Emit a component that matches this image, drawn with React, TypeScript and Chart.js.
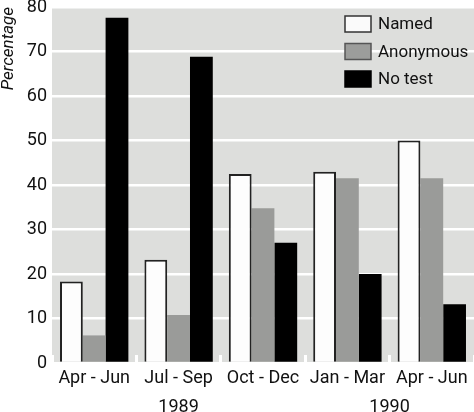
import { useEffect, useRef } from 'react'
import { Chart, registerables } from 'chart.js'

Chart.register(...registerables)

const quarters = ['Apr - Jun', 'Jul - Sep', 'Oct - Dec', 'Jan - Mar', 'Apr - Jun']
const years = ['1989', '1990']
// centre of each year's run of quarters, in category units
const yearCenters = [1, 3.5]
const named = [18.3, 23.2, 42.5, 43, 50]
const anonymous = [6.2, 10.8, 34.8, 41.5, 41.5]
const noTest = [77.6, 68.8, 27, 20, 13.2]

const FONT = "Roboto, 'Liberation Sans', sans-serif"

const legendStyles = [
  { fill: '#fafafa', stroke: '#333333' },
  { fill: '#9c9d9b', stroke: '#555555' },
  { fill: '#000000', stroke: '#000000' },
]

const plotBackground = {
  id: 'plotBackground',
  beforeDraw(chart: Chart) {
    const { ctx, chartArea } = chart
    ctx.save()
    ctx.fillStyle = '#dddedc'
    ctx.fillRect(chartArea.left, chartArea.top, chartArea.right - chartArea.left, chartArea.bottom - chartArea.top)
    ctx.restore()
  },
}

// legend sits inside the plot, top right
const insideLegend = {
  id: 'insideLegend',
  afterDraw(chart: Chart) {
    const { ctx, chartArea } = chart
    const x = chartArea.right - 129
    ctx.save()
    ctx.font = `17px ${FONT}`
    ctx.textBaseline = 'middle'
    chart.data.datasets.forEach((ds, i) => {
      const y = chartArea.top + 9 + i * 27.5
      const st = legendStyles[i]
      ctx.fillStyle = st.fill
      ctx.fillRect(x, y, 26, 16)
      ctx.strokeStyle = st.stroke
      ctx.lineWidth = 1.5
      ctx.strokeRect(x, y, 26, 16)
      ctx.fillStyle = '#111'
      ctx.fillText(String(ds.label), x + 33, y + 9)
    })
    ctx.restore()
  },
}

const noSidePad = (scale: any) => {
  scale.paddingLeft = 0
  scale.paddingRight = 0
}

export default function App() {
  const canvasRef = useRef<HTMLCanvasElement>(null)
  const chartRef = useRef<Chart | null>(null)

  useEffect(() => {
    document.body.style.margin = '0'
    if (!canvasRef.current) return
    chartRef.current?.destroy()

    chartRef.current = new Chart(canvasRef.current, {
      type: 'bar',
      data: {
        labels: quarters,
        datasets: [
          { label: 'Named', data: named, backgroundColor: '#fdfdfd', borderColor: '#222', borderWidth: 2 },
          { label: 'Anonymous', data: anonymous, backgroundColor: '#9a9b99', borderWidth: 0 },
          { label: 'No test', data: noTest, backgroundColor: '#000000', borderWidth: 0 },
        ],
      },
      options: {
        responsive: false,
        animation: false,
        layout: { padding: 0 },
        datasets: { bar: { categoryPercentage: 0.81, barPercentage: 1 } },
        plugins: {
          legend: { display: false },
          tooltip: { enabled: false },
        },
        scales: {
          x: {
            type: 'category',
            offset: true,
            border: { display: false },
            grid: {
              offset: true,
              drawOnChartArea: false,
              drawTicks: true,
              tickLength: -8,
              color: '#ffffff',
              lineWidth: 3,
            },
            ticks: {
              autoSkip: false,
              maxRotation: 0,
              padding: 14,
              color: '#111',
              font: { family: FONT, size: 18, lineHeight: 1 },
            },
            afterFit: (scale: any) => { scale.height = 27; noSidePad(scale) },
          },
          x2: {
            type: 'linear',
            position: 'bottom',
            offset: false,
            min: -0.5,
            max: quarters.length - 0.5,
            border: { display: false },
            grid: { display: false, drawTicks: false },
            afterBuildTicks: (scale: any) => {
              scale.ticks = yearCenters.map(v => ({ value: v }))
            },
            ticks: {
              autoSkip: false,
              maxRotation: 0,
              padding: 8,
              color: '#111',
              font: { family: FONT, size: 18, lineHeight: 1 },
              callback: (value: any) => years[yearCenters.indexOf(Number(value))] ?? '',
            },
            afterFit: (scale: any) => { scale.height = 22; noSidePad(scale) },
          },
          y: {
            min: 0,
            max: 80,
            border: { display: false },
            grid: { color: '#ffffff', lineWidth: 2.5, drawTicks: false },
            ticks: {
              stepSize: 10,
              padding: 5,
              color: '#111',
              font: { family: FONT, size: 18, lineHeight: 1 },
            },
            title: {
              display: true,
              text: 'Percentage',
              align: 'end',
              color: '#111',
              padding: 0,
              font: { family: FONT, size: 17, style: 'italic', lineHeight: 1 },
            },
            afterFit: (scale: any) => {
              scale.width = 52
              scale.paddingTop = 7
              scale.paddingBottom = 0
            },
          },
        },
      },
      plugins: [plotBackground, insideLegend],
    })

    return () => {
      chartRef.current?.destroy()
      chartRef.current = null
    }
  }, [])

  return (
    <div style={{ width: 474, height: 412 }}>
      <canvas ref={canvasRef} width={474} height={412} aria-label="Percentage by quarter" role="img" />
    </div>
  )
}
